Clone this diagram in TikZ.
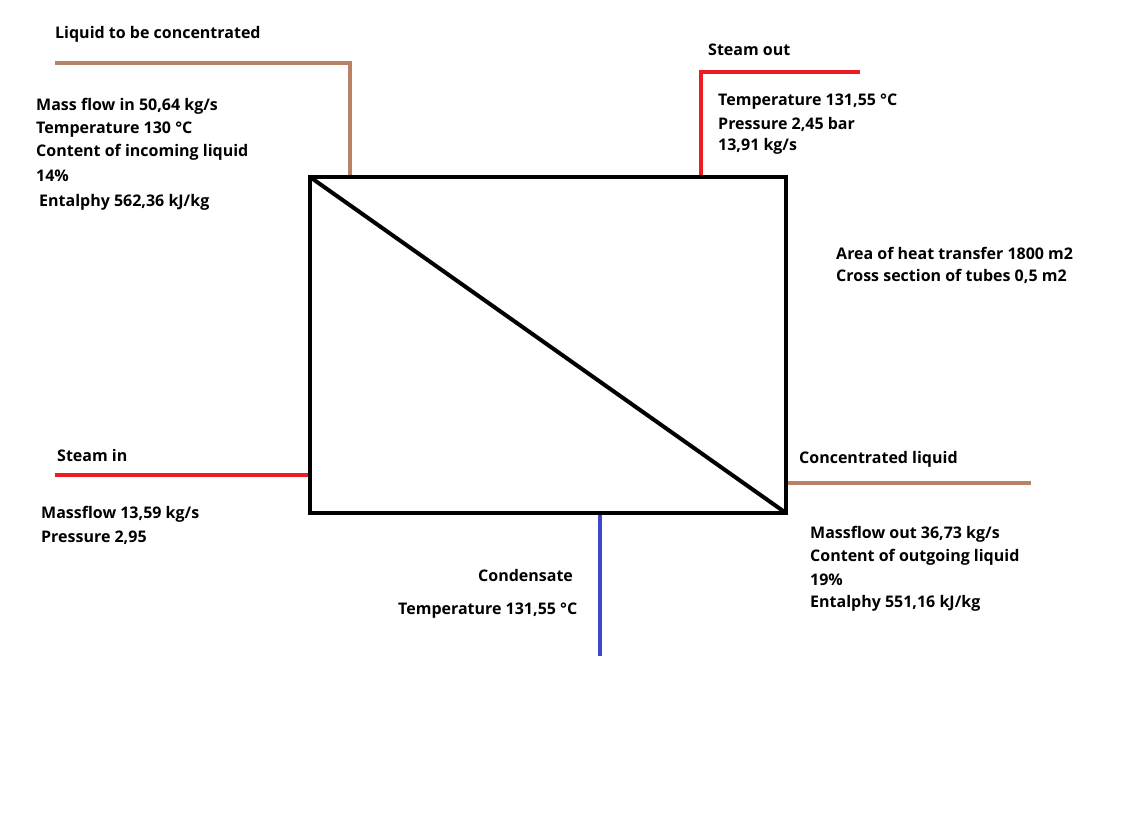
\documentclass[tikz,border=0pt]{standalone}
\usepackage{fontspec}
\setmainfont{Open Sans}
\begin{document}
\begin{tikzpicture}[x=1pt,y=-1pt,
  lbl/.style={anchor=west,inner sep=0pt,yshift=-1.5pt,font=\bfseries\fontsize{16}{18}\selectfont},
  pipe/.style={line width=3.5pt},
  box/.style={line width=4pt,draw=black}]
\definecolor{brownp}{RGB}{185,130,100}
\definecolor{redp}{RGB}{237,28,36}
\definecolor{bluep}{RGB}{63,72,204}
\useasboundingbox (0,0) rectangle (1121,825);
\fill[white] (0,0) rectangle (1121,825);
\coordinate (tl) at (310,177);
\coordinate (br) at (786,513);
\coordinate (li0) at (55,63); \coordinate (li1) at (350,63); \coordinate (li2) at (350,177);
\coordinate (so0) at (701,177); \coordinate (so1) at (701,72); \coordinate (so2) at (860,72);
\coordinate (si0) at (55,475); \coordinate (si1) at (310,475);
\coordinate (cl0) at (786,483); \coordinate (cl1) at (1031,483);
\coordinate (cd0) at (600,513); \coordinate (cd1) at (600,656);
\draw[pipe,brownp] (li0) -- (li1) -- (li2);
\draw[pipe,redp] (so0) -- (so1) -- (so2);
\draw[pipe,redp] (si0) -- (si1);
\draw[pipe,brownp] (cl0) -- (cl1);
\draw[pipe,bluep] (cd0) -- (cd1);
\draw[box] (tl) rectangle (br);
\draw[box] (tl) -- (br);
\node[lbl] (t1) at (55,33) {Liquid to be concentrated};
\node[lbl] (t2) at (36,105) {Mass flow in 50,64 kg/s};
\node[lbl] (t3) at (36,128) {Temperature 130 °C};
\node[lbl] (t4) at (36,151) {Content of incoming liquid};
\node[lbl] (t5) at (36,174) {14\%};
\node[lbl] (t6) at (39,201) {Entalphy 562,36 kJ/kg};
\node[lbl] (t7) at (708,48) {Steam out};
\node[lbl] (t8) at (718,100) {Temperature 131,55 °C};
\node[lbl] (t9) at (718,123) {Pressure 2,45 bar};
\node[lbl] (t10) at (718,145) {13,91 kg/s};
\node[lbl] (t11) at (836,252) {Area of heat transfer 1800 m2};
\node[lbl] (t12) at (836,275) {Cross section of tubes 0,5 m2};
\node[lbl] (t13) at (57,454) {Steam in};
\node[lbl] (t14) at (41,513) {Massflow 13,59 kg/s};
\node[lbl] (t15) at (41,536) {Pressure 2,95};
\node[lbl] (t16) at (799,458) {Concentrated liquid};
\node[lbl] (t17) at (810,533) {Massflow out 36,73 kg/s};
\node[lbl] (t18) at (810,556) {Content of outgoing liquid};
\node[lbl] (t19) at (810,578) {19\%};
\node[lbl] (t20) at (810,602) {Entalphy 551,16 kJ/kg};
\node[lbl] (t21) at (478,574) {Condensate};
\node[lbl] (t22) at (398,609) {Temperature 131,55 °C};
\end{tikzpicture}
\end{document}
